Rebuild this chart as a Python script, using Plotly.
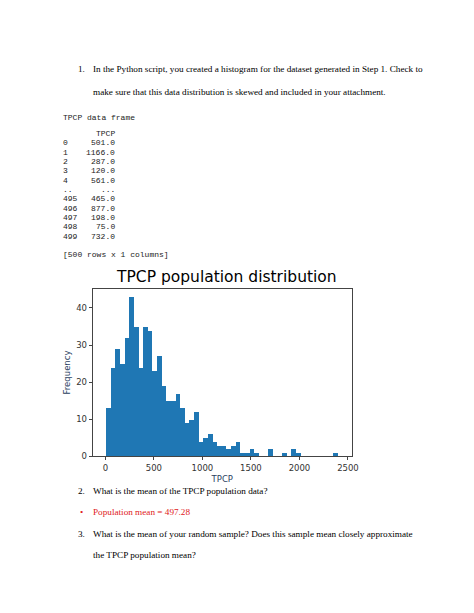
import plotly.graph_objects as go

# histogram of TPCP values (50 bins), counts
bin_start = 5
bin_width = 47.7
counts = [13, 24, 29, 25, 32, 43, 35, 24, 35, 34,
          23, 27, 19, 15, 15, 17, 13, 9, 10, 12,
          4, 5, 6, 4, 3, 3, 2, 3, 4, 1,
          1, 2, 1, 0, 0, 2, 0, 0, 1, 0,
          2, 1, 0, 0, 0, 0, 0, 0, 0, 1]
centers = [bin_start + bin_width * (i + 0.5) for i in range(len(counts))]

df_index = ["0", "1", "2", "3", "4", "..", "495", "496", "497", "498", "499"]
df_values = ["501.0", "1166.0", "287.0", "120.0", "561.0", "...",
             "465.0", "877.0", "198.0", "75.0", "732.0"]

W, H = 474, 613
serif = "Liberation Serif"
mono = "Liberation Mono"

fig = go.Figure(go.Bar(x=centers, y=counts, width=bin_width,
                       marker=dict(color="#1f77b4", line=dict(width=0))))

anns = []
def txt(x, y, s, size=9.2, font=serif, color="#000", anchor="left"):
    anns.append(dict(x=x / W, y=1 - y / H, xref="paper", yref="paper", text=s,
                     showarrow=False, xanchor=anchor, yanchor="middle", borderpad=0,
                     font=dict(family=font, size=size, color=color)))

txt(70, 62, "1.")
txt(85, 62, "In the Python script, you created a histogram for the dataset generated in Step 1. Check to")
txt(85, 85, "make sure that this data distribution is skewed and included in your attachment.")
txt(55, 110, "TPCP data frame", 8, mono, "#222")
txt(110, 127, "TPCP", 8, mono, "#222", anchor="right")
for i, (k, v) in enumerate(zip(df_index, df_values)):
    y = 136 + i * 9.4
    txt(55, y, k, 8, mono, "#222")
    txt(110, y, v, 8, mono, "#222", anchor="right")
txt(55, 249, "[500 rows x 1 columns]", 8, mono, "#222")
txt(222, 271, "TPCP population distribution", 15.5, "DejaVu Sans", anchor="center")
txt(70, 487, "2.")
txt(85, 487, "What is the mean of the TPCP population data?")
txt(72, 508, "•", 9.2, serif, "#e0201b")
txt(85, 508, "Population mean = 497.28", 9.2, serif, "#e0201b")
txt(70, 530, "3.")
txt(85, 530, "What is the mean of your random sample? Does this sample mean closely approximate")
txt(85, 552, "the TPCP population mean?")

axis_common = dict(showline=True, mirror=True, linecolor="#444", linewidth=1,
                   ticks="outside", ticklen=3, tickcolor="#444", showgrid=False,
                   zeroline=False, tickfont=dict(family="DejaVu Sans", size=8.5, color="#333"))
fig.update_layout(
    width=W, height=H, margin=dict(l=0, r=0, t=0, b=0),
    paper_bgcolor="white", plot_bgcolor="white", showlegend=False,
    bargap=0, annotations=anns,
    xaxis=dict(domain=[86 / W, 349 / W], range=[-130, 2540],
               tickvals=[0, 500, 1000, 1500, 2000, 2500],
               title=dict(text="TPCP", font=dict(family="DejaVu Sans", size=8.5), standoff=4),
               **axis_common),
    yaxis=dict(domain=[1 - 452 / H, 1 - 283 / H], range=[0, 45.2],
               tickvals=[0, 10, 20, 30, 40],
               title=dict(text="Frequency", font=dict(family="DejaVu Sans", size=8.5), standoff=4),
               **axis_common),
)
fig.write_html("out.html")
